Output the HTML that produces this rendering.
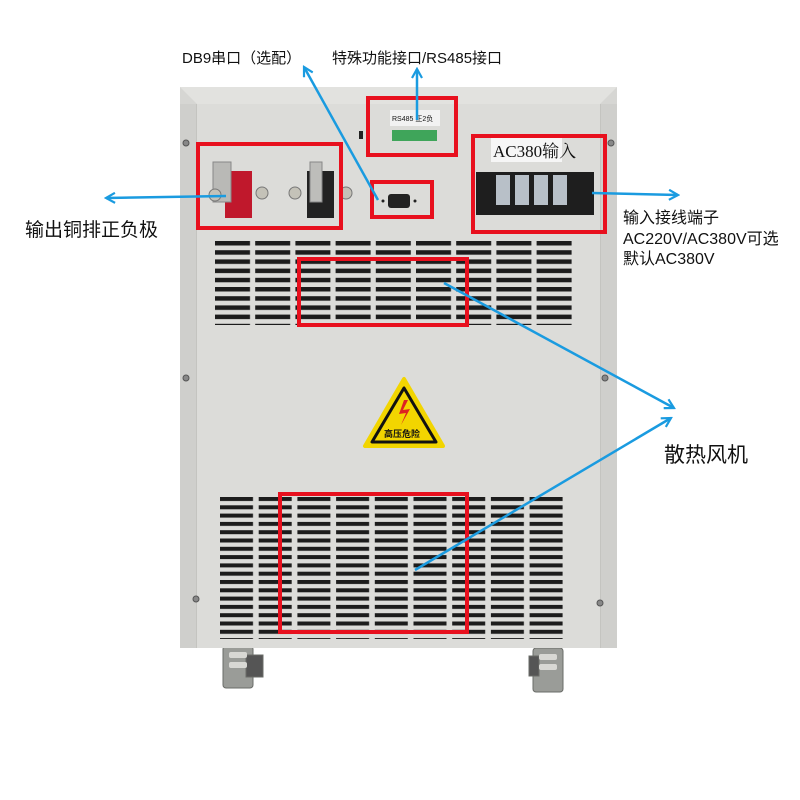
<!DOCTYPE html>
<html><head><meta charset="utf-8"><style>
html,body{margin:0;padding:0;background:#fff;width:800px;height:800px;overflow:hidden}
svg{display:block}
text{font-family:"Liberation Sans","Noto Sans CJK SC",sans-serif;fill:#111}
text.serif{font-family:"Liberation Serif","Noto Serif CJK SC",serif}
</style></head><body>
<svg width="800" height="800" viewBox="0 0 800 800" xmlns="http://www.w3.org/2000/svg">
<defs>
<pattern id="v1" x="215" y="241" width="40.2" height="9.2" patternUnits="userSpaceOnUse">
<rect x="0" y="0" width="35" height="4.5" fill="#1c1c1c"/></pattern>
<pattern id="v2" x="220" y="497" width="38.7" height="8.3" patternUnits="userSpaceOnUse">
<rect x="0" y="0" width="33" height="4" fill="#1c1c1c"/></pattern>
<marker id="ar" viewBox="0 0 12 12" refX="10" refY="6" markerWidth="12" markerHeight="12" orient="auto" markerUnits="userSpaceOnUse">
<path d="M1,1 L10,6 L1,11" fill="none" stroke="#1a9be0" stroke-width="2.2"/></marker>
</defs>
<g fill="#9a9c98" stroke="#6a6c68" stroke-width="1">
<rect x="223" y="646" width="30" height="42" rx="3"/>
<rect x="246" y="655" width="17" height="22" fill="#555"/>
<rect x="533" y="648" width="30" height="44" rx="3"/>
<rect x="529" y="656" width="10" height="20" fill="#555"/>
</g>
<g fill="#d8d8d4"><rect x="229" y="652" width="18" height="6" rx="2"/><rect x="229" y="662" width="18" height="6" rx="2"/>
<rect x="539" y="654" width="18" height="6" rx="2"/><rect x="539" y="664" width="18" height="6" rx="2"/></g>
<rect x="180" y="87" width="437" height="561" fill="#d6d6d3"/>
<polygon points="180,87 617,87 600,104 197,104" fill="#e2e2df"/>
<rect x="180" y="104" width="17" height="544" fill="#cfcfcc"/>
<rect x="600" y="104" width="17" height="544" fill="#cfcfcc"/>
<line x1="197" y1="104" x2="197" y2="648" stroke="#b8b8b5"/>
<line x1="600" y1="104" x2="600" y2="648" stroke="#b8b8b5"/>
<rect x="197" y="104" width="403" height="544" fill="#dcdcd9"/>
<g fill="#888" stroke="#555"><circle cx="186" cy="143" r="3"/><circle cx="611" cy="143" r="3"/><circle cx="186" cy="378" r="3"/><circle cx="605" cy="378" r="3"/><circle cx="196" cy="599" r="3"/><circle cx="600" cy="603" r="3"/></g>
<rect x="215" y="241" width="360" height="84" fill="url(#v1)"/>
<rect x="220" y="497" width="348" height="142" fill="url(#v2)"/>
<rect x="225" y="171" width="27" height="47" fill="#c0182c"/>
<rect x="213" y="162" width="18" height="40" fill="#b9b9b6" stroke="#888"/>
<rect x="307" y="171" width="27" height="47" fill="#222"/>
<rect x="310" y="162" width="12" height="40" fill="#bdbdba" stroke="#888"/>
<g fill="#c4c2b8" stroke="#777"><circle cx="215" cy="195" r="6"/><circle cx="262" cy="193" r="6"/><circle cx="295" cy="193" r="6"/><circle cx="346" cy="193" r="6"/></g>
<rect x="390" y="110" width="50" height="16" fill="#f2f2f2"/>
<text x="392" y="121" font-size="7" fill="#555">RS485 正2负</text>
<rect x="392" y="130" width="45" height="11" fill="#3fa55a"/>
<rect x="359" y="131" width="4" height="8" fill="#222"/>
<rect x="388" y="194" width="22" height="14" rx="3" fill="#222"/>
<circle cx="383" cy="201" r="1.5" fill="#222"/><circle cx="415" cy="201" r="1.5" fill="#222"/>
<rect x="491" y="138" width="71" height="24" fill="#f6f6f6"/>
<text class="serif" x="493" y="157" font-size="17">AC380输入</text>
<rect x="476" y="172" width="118" height="43" fill="#1e1e1e"/>
<g fill="#b8c0c8"><rect x="496" y="175" width="14" height="30"/><rect x="515" y="175" width="14" height="30"/><rect x="534" y="175" width="14" height="30"/><rect x="553" y="175" width="14" height="30"/></g>
<polygon points="404,379 365,446 443,446" fill="#f2d500" stroke="#f2d500" stroke-width="4" stroke-linejoin="round"/>
<polygon points="404,388 372,442 436,442" fill="none" stroke="#111" stroke-width="3" stroke-linejoin="round"/>
<path d="M404,400 L399,414 L406,413 L401,425 L410,409 L403,410 L408,400Z" fill="#d22"/>
<text x="384" y="437" font-size="9" font-weight="bold">高压危险</text>
<g fill="none" stroke="#e8101e" stroke-width="4">
<rect x="198" y="144" width="143" height="84"/>
<rect x="368" y="98" width="88" height="57"/>
<rect x="372" y="182" width="60" height="35"/>
<rect x="473" y="136" width="132" height="96"/>
<rect x="299" y="259" width="168" height="66"/>
<rect x="280" y="494" width="187" height="138"/>
</g>
<g stroke="#1a9be0" stroke-width="2.5" fill="none" marker-end="url(#ar)">
<line x1="378" y1="200" x2="304" y2="67"/>
<line x1="417" y1="120" x2="417" y2="69"/>
<line x1="226" y1="196" x2="106" y2="198"/>
<line x1="592" y1="193" x2="678" y2="195"/>
<line x1="444" y1="283" x2="674" y2="408"/>
<line x1="415" y1="570" x2="671" y2="418"/>
</g>
<text x="182" y="63" font-size="15">DB9串口（选配）</text>
<text x="332" y="63" font-size="15">特殊功能接口/RS485接口</text>
<text x="25" y="236" font-size="19">输出铜排正负极</text>
<text x="623" y="223" font-size="16">输入接线端子</text>
<text x="623" y="244" font-size="16">AC220V/AC380V可选</text>
<text x="623" y="264" font-size="16">默认AC380V</text>
<text x="664" y="462" font-size="21">散热风机</text>
</svg>
</body></html>
